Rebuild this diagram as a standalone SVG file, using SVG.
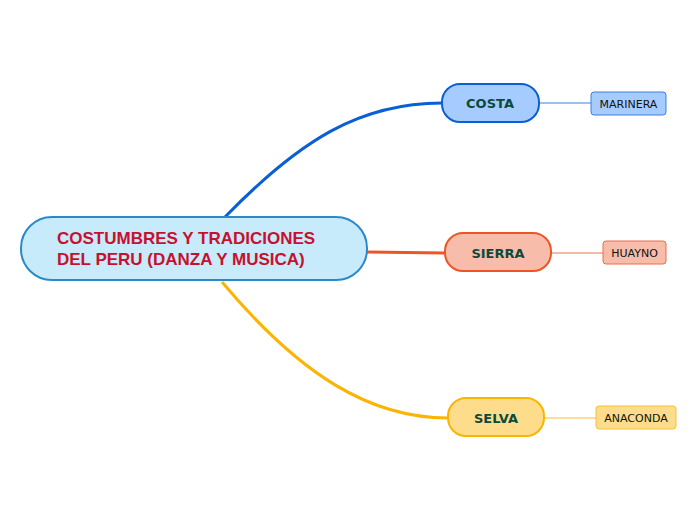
<svg xmlns="http://www.w3.org/2000/svg" width="696" height="520" viewBox="0 0 696 520">
<style>
.t{font-family:"DejaVu Sans",Verdana,sans-serif;font-weight:bold;font-size:13px;fill:#0b4a3a;text-anchor:middle}
.s{font-family:"DejaVu Sans",Verdana,sans-serif;font-size:11px;fill:#111;text-anchor:middle}
.c{fill:none}
</style>
<rect width="696" height="520" fill="#fff"/>
<g id="connectors">
<path class="c" d="M225,217 C300,140 360,103 442,103" stroke="#0a5fd6" stroke-width="3"/>
<path class="c" d="M367,252 L445,253" stroke="#ee5424" stroke-width="3"/>
<path class="c" d="M222,282 C300,375 370,418 448,418" stroke="#fbb400" stroke-width="3"/>
<path class="c" d="M540,103 L591,103" stroke="#3f7fd8" stroke-width="1"/>
<path class="c" d="M552,253 L603,253" stroke="#f5a08a" stroke-width="1.5"/>
<path class="c" d="M545,418 L596,418" stroke="#fbd27a" stroke-width="1.5"/>
</g>
<g id="root"><rect x="21" y="217" width="346" height="63" rx="31" fill="#c7ebfb" stroke="#2a8ac9" stroke-width="2"/>
<text font-family="Liberation Sans,Arial,sans-serif" font-weight="bold" font-size="17" fill="#c8102e" x="57" y="244">COSTUMBRES Y TRADICIONES</text>
<text font-family="Liberation Sans,Arial,sans-serif" font-weight="bold" font-size="17" fill="#c8102e" x="57" y="265">DEL PERU (DANZA Y MUSICA)</text></g>
<g id="costa"><rect x="442" y="84" width="97" height="38" rx="18" fill="#a6cbff" stroke="#0a5fd6" stroke-width="2"/><text class="t" x="490" y="108">COSTA</text></g>
<g id="sierra"><rect x="445" y="233" width="106" height="38" rx="18" fill="#f8bcaa" stroke="#ee5424" stroke-width="2"/><text class="t" x="498" y="258">SIERRA</text></g>
<g id="selva"><rect x="448" y="398" width="96" height="38" rx="18" fill="#fddc8c" stroke="#fbb400" stroke-width="2"/><text class="t" x="496" y="423">SELVA</text></g>
<g id="marinera"><rect x="591" y="92" width="75" height="23" rx="3" fill="#a6cbff" stroke="#3f7fd8"/><text class="s" x="628.5" y="108">MARINERA</text></g>
<g id="huayno"><rect x="603" y="241" width="63" height="23" rx="3" fill="#f8bcaa" stroke="#ee6a44"/><text class="s" x="634.5" y="257">HUAYNO</text></g>
<g id="anaconda"><rect x="596" y="406" width="80" height="23" rx="3" fill="#fddc8c" stroke="#fbc030"/><text class="s" x="636" y="422">ANACONDA</text></g>
</svg>
